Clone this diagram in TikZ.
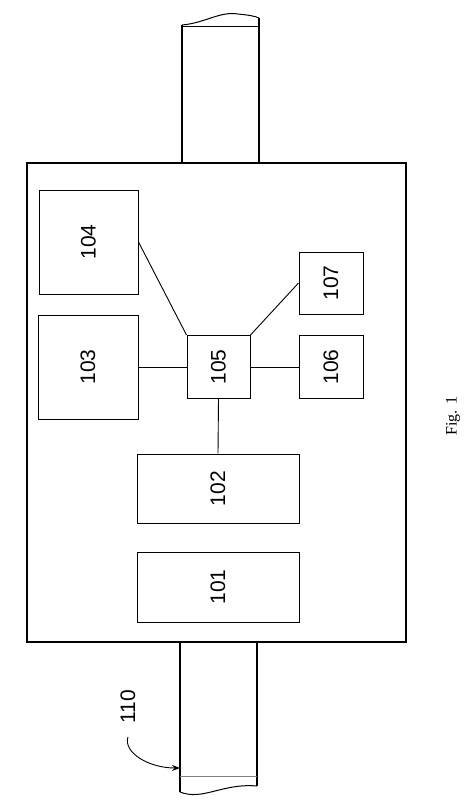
\documentclass[tikz,border=0pt]{standalone}
\usepackage{fontspec}
\setmainfont{Liberation Serif}
\newfontfamily\partfont{Liberation Sans}
\usetikzlibrary{arrows.meta}

\tikzset{
  part/.style={draw, line width=1pt, inner sep=0pt,
    font=\partfont\fontsize{21}{21}\selectfont},
  wire/.style={line width=0.9pt},
  pipe/.style={line width=1.2pt}
}

\begin{document}
\begin{tikzpicture}[x=1pt, y=-1pt]
        \useasboundingbox (0,0) rectangle (474,812);

        % Pipe, top end
        \draw [pipe] (182,162) -- (182,25);
        \draw [pipe] (259,162) -- (259,18);
        \draw [line width=0.7pt] (182,26) -- (259,26);
        \draw [line width=1pt] (182,25) .. controls (205,23) and (220,11) .. (238,14)
            .. controls (248,15) and (255,16) .. (259,18);

        % Pipe, bottom end
        \draw [pipe] (180,642) -- (180,792);
        \draw [pipe] (257,642) -- (257,786);
        \draw [line width=0.7pt, gray] (180,776) -- (257,776);
        \draw [line width=1pt] (180,792) .. controls (203,801) and (222,783) .. (257,786);

        % Housing
        \draw [line width=1.2pt, fill=white] (27,163) rectangle (406,642);

        % Parts
        \node [part, minimum width=99pt, minimum height=104pt] (p104) at (88.5,242) {\rotatebox{90}{104}};
        \node [part, minimum width=100pt, minimum height=104pt] (p103) at (88,367) {\rotatebox{90}{103}};
        \node [part, minimum width=63pt, minimum height=63pt] (p105) at (218.5,367) {\rotatebox{90}{105}};
        \node [part, minimum width=64pt, minimum height=63pt] (p106) at (331,367) {\rotatebox{90}{106}};
        \node [part, minimum width=64pt, minimum height=62pt] (p107) at (331,283) {\rotatebox{90}{107}};
        \node [part, minimum width=162pt, minimum height=69pt] (p102) at (218,488.5) {\rotatebox{90}{102}};
        \node [part, minimum width=162pt, minimum height=70pt] (p101) at (218,587) {\rotatebox{90}{101}};

        % Links to 105
        \draw [wire] (p104.east) -- (p105.north west);
        \draw [wire] (p107.west) -- (p105.north east);
        \draw [wire] (p103.east) -- (p105.west);
        \draw [wire] (p105.east) -- (p106.west);
        \draw [wire] (p105.south) -- (p102.north);

        % Annotations
        \node [font=\partfont\fontsize{21}{21}\selectfont, inner sep=0pt] (n110) at (128,707) {\rotatebox{90}{110}};
        \coordinate (c110) at (180,768);
        \draw [line width=0.9pt, -{Stealth[length=8pt, width=6pt]}]
            ([yshift=-13pt]n110.south) .. controls (123,752) and (148,768) .. (c110);
        \node [font=\fontsize{16}{16}\selectfont, inner sep=0pt] (fig) at (453,416) {\rotatebox{90}{Fig. 1}};
    \end{tikzpicture}
\end{document}
